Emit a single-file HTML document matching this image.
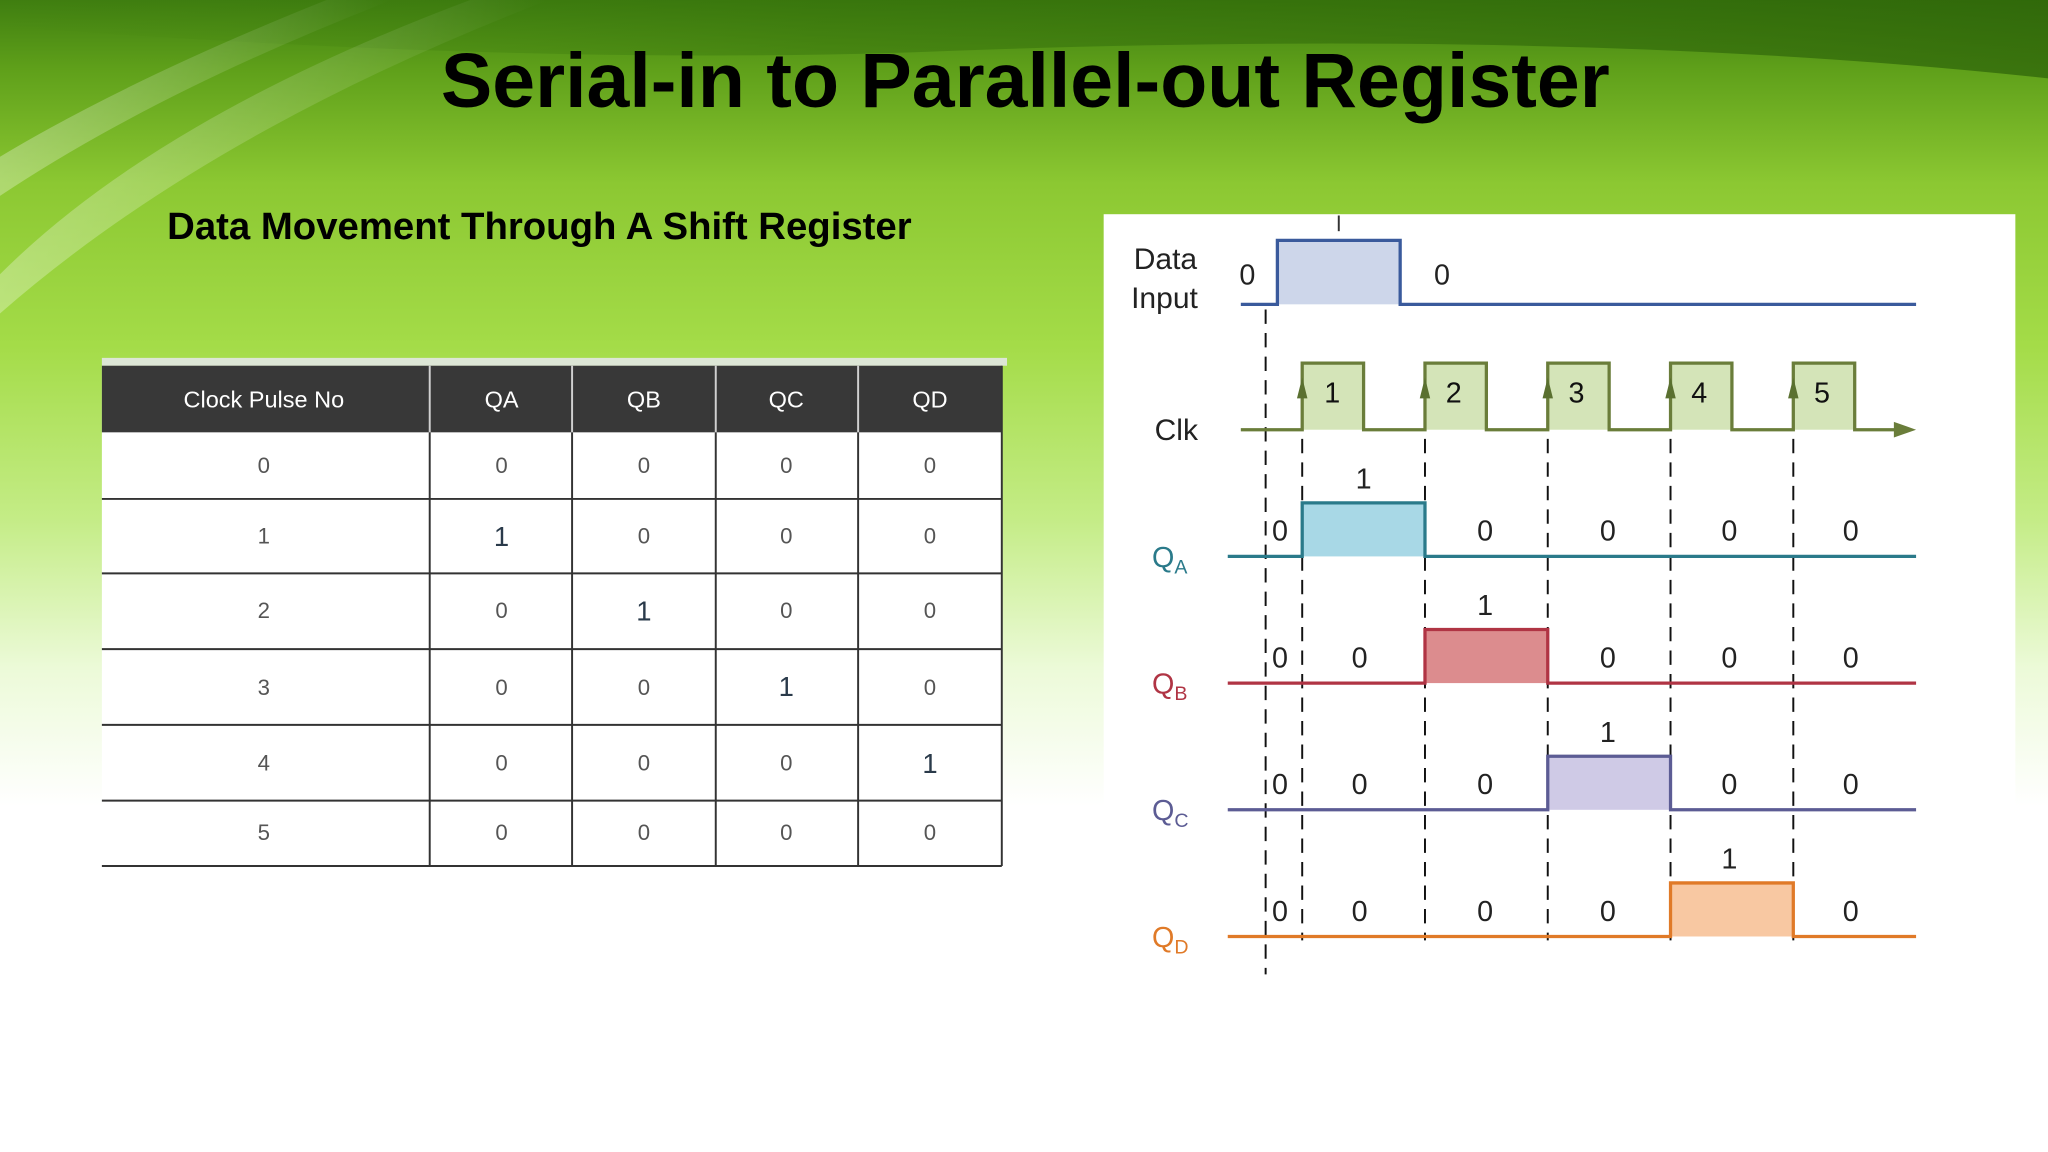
<!DOCTYPE html>
<html><head><meta charset="utf-8"><style>
html,body{margin:0;padding:0;width:2048px;height:1152px;overflow:hidden;background:#fff}
svg{display:block}
text{font-family:"Liberation Sans",sans-serif}
</style></head><body>
<svg width="2048" height="1152" viewBox="0 0 1568 882" xmlns="http://www.w3.org/2000/svg">
<defs>
<linearGradient id="bg" x1="0" y1="0" x2="0" y2="1">
<stop offset="0" stop-color="#3f7e10"/>
<stop offset="0.06" stop-color="#5fa01a"/>
<stop offset="0.16" stop-color="#8cc832"/>
<stop offset="0.3" stop-color="#a4dc48"/>
<stop offset="0.45" stop-color="#c4ec86"/>
<stop offset="0.58" stop-color="#ecfad8"/>
<stop offset="0.7" stop-color="#ffffff"/>
</linearGradient>
<linearGradient id="streak" x1="0" y1="0" x2="1" y2="0">
<stop offset="0" stop-color="#ffffff" stop-opacity="0.3"/>
<stop offset="1" stop-color="#ffffff" stop-opacity="0"/>
</linearGradient>
<linearGradient id="top" x1="0" y1="0" x2="1" y2="0">
<stop offset="0" stop-color="#3a7a0c" stop-opacity="0"/>
<stop offset="0.4" stop-color="#2f6a08" stop-opacity="0.4"/>
<stop offset="1" stop-color="#2a6008" stop-opacity="0.7"/>
</linearGradient>
</defs>
<rect width="1568" height="882" fill="url(#bg)"/>
<path d="M0 0 H1568 V60 Q1200 20 700 40 Q400 50 0 20 Z" fill="url(#top)"/>
<path d="M0 210 Q120 90 360 0 L420 0 Q160 100 0 240 Z" fill="url(#streak)"/>
<path d="M0 120 Q100 60 250 0 L300 0 Q120 70 0 150 Z" fill="url(#streak)"/>

<text x="785" y="82" font-size="59" font-weight="bold" text-anchor="middle" fill="#000">Serial-in to Parallel-out Register</text>
<text x="128" y="183" font-size="29" font-weight="bold" fill="#000" textLength="570" lengthAdjust="spacingAndGlyphs">Data Movement Through A Shift Register</text>

<!-- table -->
<rect x="78" y="274" width="693" height="6" fill="#dde6d6"/>
<rect x="78" y="280" width="689" height="383" fill="#fff"/>
<rect x="78" y="280" width="689" height="51" fill="#383838"/>
<g stroke="#d0d0d0" stroke-width="1.5"><line x1="329" y1="280" x2="329" y2="331"/><line x1="438" y1="280" x2="438" y2="331"/><line x1="548" y1="280" x2="548" y2="331"/><line x1="657" y1="280" x2="657" y2="331"/></g>
<g stroke="#333" stroke-width="1.5">
<line x1="329" y1="331" x2="329" y2="663"/><line x1="438" y1="331" x2="438" y2="663"/><line x1="548" y1="331" x2="548" y2="663"/><line x1="657" y1="331" x2="657" y2="663"/><line x1="767" y1="280" x2="767" y2="663"/>
<line x1="78" y1="382" x2="767" y2="382"/><line x1="78" y1="439" x2="767" y2="439"/><line x1="78" y1="497" x2="767" y2="497"/><line x1="78" y1="555" x2="767" y2="555"/><line x1="78" y1="613" x2="767" y2="613"/><line x1="78" y1="663" x2="767" y2="663"/>
</g>
<g font-size="18" fill="#fff" text-anchor="middle">
<text x="202" y="312">Clock Pulse No</text><text x="384" y="312">QA</text><text x="493" y="312">QB</text><text x="602" y="312">QC</text><text x="712" y="312">QD</text>
</g>
<g font-size="17" fill="#555" text-anchor="middle">
<text x="202" y="362">0</text><text x="384" y="362">0</text><text x="493" y="362">0</text><text x="602" y="362">0</text><text x="712" y="362">0</text>
<text x="202" y="416">1</text><text x="493" y="416">0</text><text x="602" y="416">0</text><text x="712" y="416">0</text>
<text x="202" y="473">2</text><text x="384" y="473">0</text><text x="602" y="473">0</text><text x="712" y="473">0</text>
<text x="202" y="532">3</text><text x="384" y="532">0</text><text x="493" y="532">0</text><text x="712" y="532">0</text>
<text x="202" y="590">4</text><text x="384" y="590">0</text><text x="493" y="590">0</text><text x="602" y="590">0</text>
<text x="202" y="643">5</text><text x="384" y="643">0</text><text x="493" y="643">0</text><text x="602" y="643">0</text><text x="712" y="643">0</text>
</g>
<g font-size="21" fill="#2a3a4a" text-anchor="middle">
<text x="384" y="418">1</text><text x="493" y="475">1</text><text x="602" y="533">1</text><text x="712" y="592">1</text>
</g>

<!-- diagram panel -->
<rect x="845" y="164" width="698" height="600" fill="#fff"/>
<g font-size="23" fill="#222">
<text x="868" y="206">Data</text><text x="866" y="236">Input</text>
<text x="884" y="337">Clk</text>
</g>
<g stroke="#111" stroke-width="1.5" stroke-dasharray="11 7" fill="none">
<line x1="969" y1="237" x2="969" y2="746"/>
<line x1="997" y1="336" x2="997" y2="720"/><line x1="1091" y1="336" x2="1091" y2="720"/><line x1="1185" y1="336" x2="1185" y2="720"/><line x1="1279" y1="336" x2="1279" y2="720"/><line x1="1373" y1="336" x2="1373" y2="720"/>
</g>
<line x1="1025" y1="165" x2="1025" y2="177" stroke="#333" stroke-width="1.5"/>
<rect x="978" y="184" width="94" height="49" fill="#cdd6ea"/>
<path d="M950 233 H978 V184 H1072 V233 H1467" fill="none" stroke="#3a5a9c" stroke-width="2.5"/>
<g fill="#d4e4b8"><rect x="997" y="278" width="47" height="51"/><rect x="1091" y="278" width="47" height="51"/><rect x="1185" y="278" width="47" height="51"/><rect x="1279" y="278" width="47" height="51"/><rect x="1373" y="278" width="47" height="51"/></g>
<path d="M950 329 H997 V278 H1044 V329 H1091 V278 H1138 V329 H1185 V278 H1232 V329 H1279 V278 H1326 V329 H1373 V278 H1420 V329 H1452" fill="none" stroke="#6a7d3a" stroke-width="2.5"/>
<path d="M1450 323 L1467 329 L1450 335 Z" fill="#6a7d3a"/>
<g fill="#5a7030"><path d="M997 289 l-4 16 h8 Z"/><path d="M1091 289 l-4 16 h8 Z"/><path d="M1185 289 l-4 16 h8 Z"/><path d="M1279 289 l-4 16 h8 Z"/><path d="M1373 289 l-4 16 h8 Z"/></g>
<g font-size="22" fill="#111" text-anchor="middle">
<text x="1020" y="308">1</text><text x="1113" y="308">2</text><text x="1207" y="308">3</text><text x="1301" y="308">4</text><text x="1395" y="308">5</text>
</g>
<rect x="997" y="385" width="94" height="41" fill="#a8d8e6"/>
<path d="M940 426 H997 V385 H1091 V426 H1467" fill="none" stroke="#2a7a8a" stroke-width="2.5"/>
<rect x="1091" y="482" width="94" height="41" fill="#dc8c8e"/>
<path d="M940 523 H1091 V482 H1185 V523 H1467" fill="none" stroke="#b03444" stroke-width="2.5"/>
<rect x="1185" y="579" width="94" height="41" fill="#cfcae6"/>
<path d="M940 620 H1185 V579 H1279 V620 H1467" fill="none" stroke="#5c5c94" stroke-width="2.5"/>
<rect x="1279" y="676" width="94" height="41" fill="#f8c8a2"/>
<path d="M940 717 H1279 V676 H1373 V717 H1467" fill="none" stroke="#e07a28" stroke-width="2.5"/>

<g font-size="22" fill="#222" text-anchor="middle">
<text x="955" y="218">0</text><text x="1104" y="218">0</text>
<text x="1044" y="374">1</text>
<text x="980" y="414">0</text><text x="1137" y="414">0</text><text x="1231" y="414">0</text><text x="1324" y="414">0</text><text x="1417" y="414">0</text>
<text x="1137" y="471">1</text>
<text x="980" y="511">0</text><text x="1041" y="511">0</text><text x="1231" y="511">0</text><text x="1324" y="511">0</text><text x="1417" y="511">0</text>
<text x="1231" y="568">1</text>
<text x="980" y="608">0</text><text x="1041" y="608">0</text><text x="1137" y="608">0</text><text x="1324" y="608">0</text><text x="1417" y="608">0</text>
<text x="1324" y="665">1</text>
<text x="980" y="705">0</text><text x="1041" y="705">0</text><text x="1137" y="705">0</text><text x="1231" y="705">0</text><text x="1417" y="705">0</text>
</g>
<g font-size="22">
<text x="882" y="434" fill="#2a7a8a">Q<tspan font-size="15" dy="5">A</tspan></text>
<text x="882" y="531" fill="#b03444">Q<tspan font-size="15" dy="5">B</tspan></text>
<text x="882" y="628" fill="#5c5c94">Q<tspan font-size="15" dy="5">C</tspan></text>
<text x="882" y="725" fill="#e07a28">Q<tspan font-size="15" dy="5">D</tspan></text>
</g>
</svg>
</body></html>
